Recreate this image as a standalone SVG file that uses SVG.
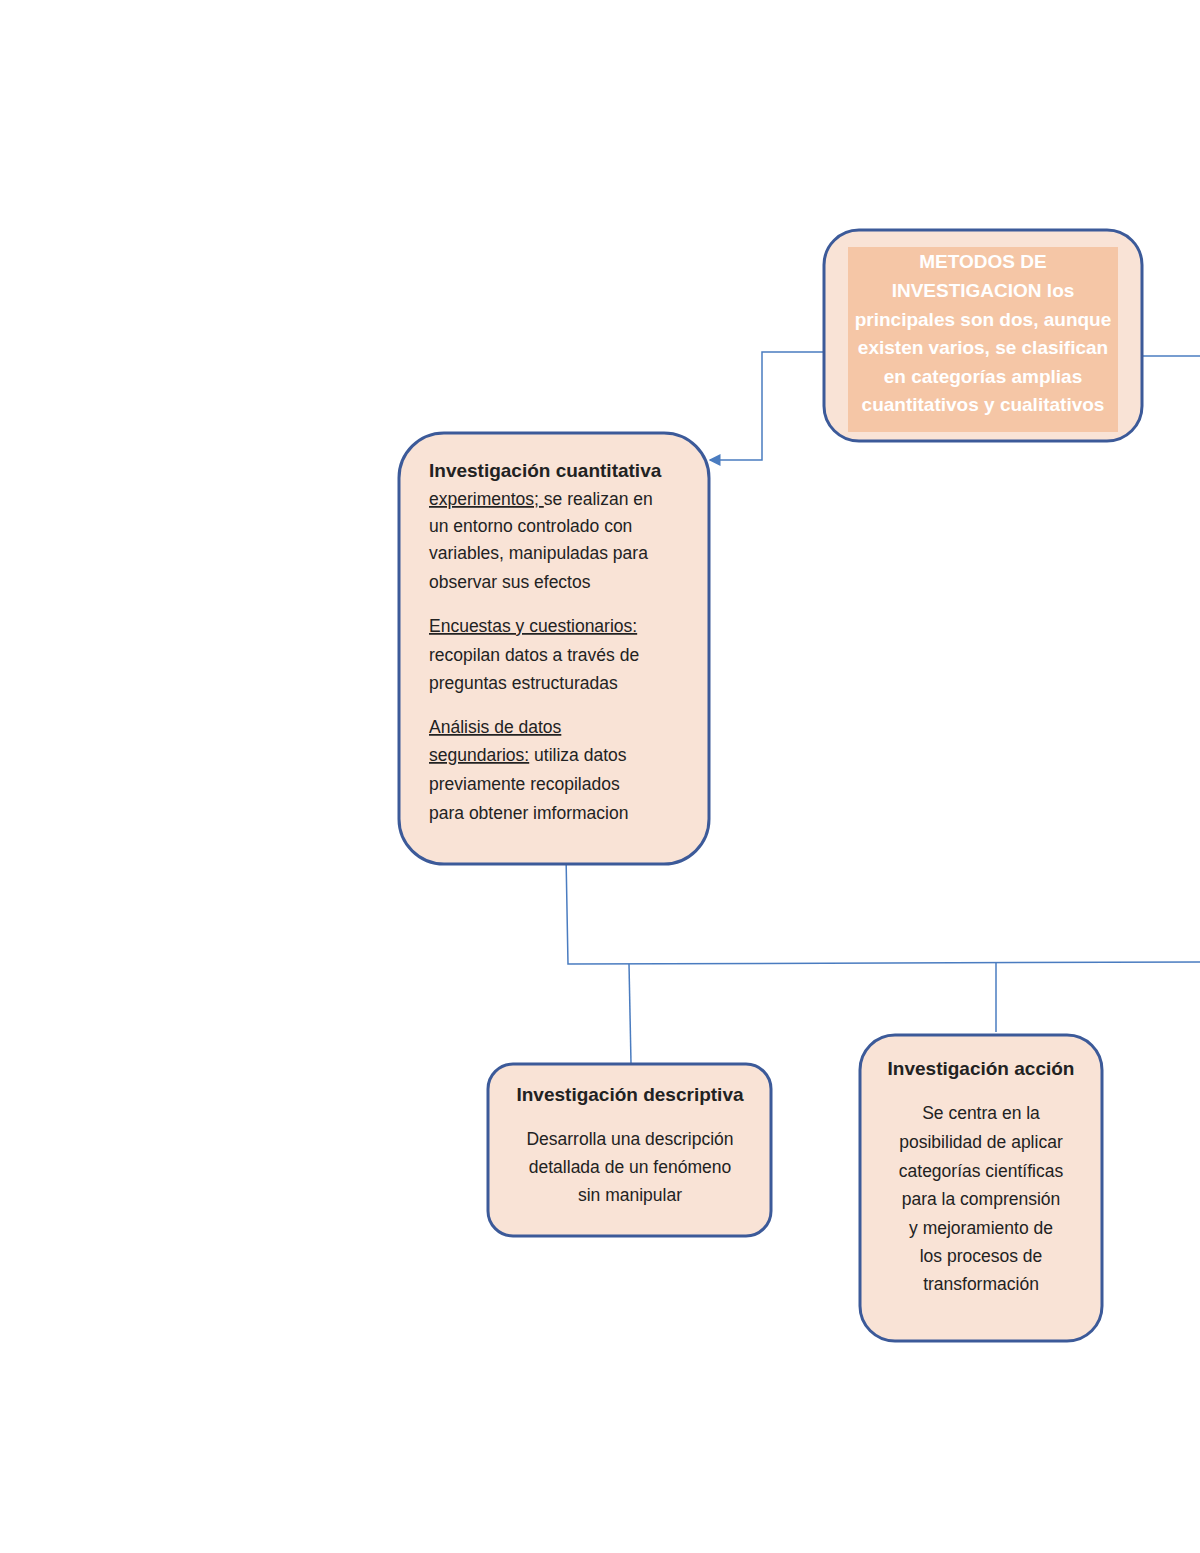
<svg xmlns="http://www.w3.org/2000/svg" width="1200" height="1553" viewBox="0 0 1200 1553">
<style>
.box{fill:#f9e3d6;stroke:#3c5a99;stroke-width:3}
.c{fill:none;stroke:#4a7cc0;stroke-width:1.5}
text{font-family:"Liberation Sans",Arial,sans-serif;font-size:17.5px;fill:#222}
.b{font-weight:bold;font-size:19px}
.w{fill:#fff;font-weight:bold;font-size:19px}
.m{text-anchor:middle}
</style>
<defs><marker id="ar" markerWidth="8" markerHeight="8" refX="7" refY="4" orient="auto"><path d="M0,0 L8,4 L0,8 z" fill="#4a7cc0"/></marker></defs>
<rect width="1200" height="1553" fill="#fff"/>
<g id="connectors">
<polyline class="c" points="824,352 762,352 762,460 710,460" marker-end="url(#ar)"/>
<line class="c" x1="1142" y1="356" x2="1200" y2="356"/>
<polyline class="c" points="566,855 568,964 1200,962"/>
<line class="c" x1="629" y1="964" x2="631" y2="1063"/>
<line class="c" x1="996" y1="962" x2="996" y2="1032"/>
</g>
<g id="metodos">
<rect class="box" x="824" y="230" width="318" height="211" rx="35"/>
<rect x="848" y="247" width="270" height="185" fill="#f5c6a6"/>
<text class="w m" x="983" y="268">METODOS DE</text>
<text class="w m" x="983" y="297">INVESTIGACION los</text>
<text class="w m" x="983" y="326">principales son dos, aunque</text>
<text class="w m" x="983" y="354">existen varios, se clasifican</text>
<text class="w m" x="983" y="383">en categorías amplias</text>
<text class="w m" x="983" y="411">cuantitativos y cualitativos</text>
</g>
<g id="cuantitativa">
<rect class="box" x="399" y="433" width="310" height="431" rx="45"/>
<text class="b" x="429" y="477">Investigación cuantitativa</text>
<text x="429" y="505"><tspan text-decoration="underline">experimentos; </tspan>se realizan en</text>
<text x="429" y="532">un entorno controlado con</text>
<text x="429" y="559">variables, manipuladas para</text>
<text x="429" y="588">observar sus efectos</text>
<text x="429" y="632" text-decoration="underline">Encuestas y cuestionarios: </text>
<text x="429" y="661">recopilan datos a través de</text>
<text x="429" y="689">preguntas estructuradas</text>
<text x="429" y="733" text-decoration="underline">Análisis de datos </text>
<text x="429" y="761"><tspan text-decoration="underline">segundarios:</tspan> utiliza datos</text>
<text x="429" y="790">previamente recopilados</text>
<text x="429" y="819">para obtener imformacion</text>
</g>
<g id="descriptiva">
<rect class="box" x="488" y="1064" width="283" height="172" rx="25"/>
<text class="b m" x="630" y="1101">Investigación descriptiva</text>
<text class="m" x="630" y="1145">Desarrolla una descripción</text>
<text class="m" x="630" y="1173">detallada de un fenómeno</text>
<text class="m" x="630" y="1201">sin manipular</text>
</g>
<g id="accion">
<rect class="box" x="860" y="1035" width="242" height="306" rx="35"/>
<text class="b m" x="981" y="1075">Investigación acción</text>
<text class="m" x="981" y="1119">Se centra en la</text>
<text class="m" x="981" y="1148">posibilidad de aplicar</text>
<text class="m" x="981" y="1177">categorías científicas</text>
<text class="m" x="981" y="1205">para la comprensión</text>
<text class="m" x="981" y="1234">y mejoramiento de</text>
<text class="m" x="981" y="1262">los procesos de</text>
<text class="m" x="981" y="1290">transformación</text>
</g>
</svg>
